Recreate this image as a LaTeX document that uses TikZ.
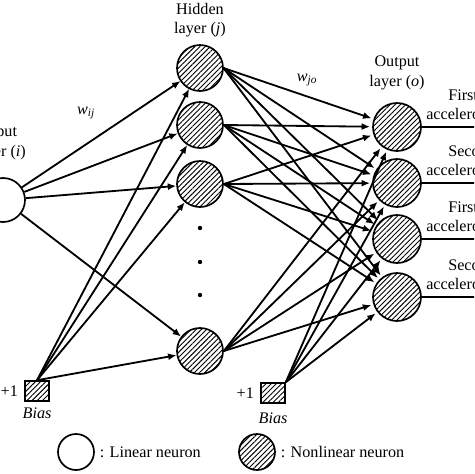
\documentclass[tikz,border=0pt]{standalone}
\usepackage{fontspec}
\setmainfont{Liberation Serif}
\usetikzlibrary{arrows.meta}
\usetikzlibrary{patterns.meta}

\begin{document}
\begin{tikzpicture}[x=0.25mm, y=-0.25mm, font=\fontsize{11.5}{14}\selectfont,
    lin/.style={circle, draw, line width=1.2pt, inner sep=0pt, minimum size=#1},
    lin/.default=11mm,
    nonlin/.style={circle, draw, line width=1.2pt, inner sep=0pt, minimum size=#1,
        pattern={Lines[angle=45, distance=2.6pt, line width=0.65pt]}},
    nonlin/.default=11.5mm,
    biasbox/.style={draw, line width=1.1pt, minimum width=6mm, minimum height=5mm, inner sep=0pt,
        pattern={Lines[angle=45, distance=2.6pt, line width=0.65pt]}},
    conn/.style={line width=1.3pt, -{Latex[length=6pt, width=5pt]}}]
    \useasboundingbox (0, 0) rectangle (474, 474);
    \clip (0, 0) rectangle (474, 474);
    % neurons
    \node[lin] (in) at (3, 200) {};
    \node[nonlin] (h1) at (200, 68) {};
    \node[nonlin] (h2) at (200, 125) {};
    \node[nonlin] (h3) at (200, 184) {};
    \node[nonlin] (h4) at (200, 351) {};
    \foreach \y in {228, 262, 295}
        \fill (200, \y) circle (2.2);
    \node[nonlin=12mm] (o1) at (397, 127) {};
    \node[nonlin=12mm] (o2) at (397, 183) {};
    \node[nonlin=12mm] (o3) at (397, 239) {};
    \node[nonlin=12mm] (o4) at (397, 297) {};
    % bias units
    \node[biasbox] (b1) at (37, 391) {};
    \node[left=1pt] (p1) at (b1.west) {+1};
    \node (bl1) at (37, 413) {\textit{Bias}};
    \node[biasbox] (b2) at (273, 393) {};
    \node[left=1pt] (p2) at (b2.west) {+1};
    \node (bl2) at (273, 418) {\textit{Bias}};
    % layer labels
    \node[align=center] (tin) at (0, 143) {Input\\layer (\textit{i})};
    \node[align=center] (thid) at (200, 20) {Hidden\\layer (\textit{j})};
    \node[align=center] (tout) at (397, 73) {Output\\layer (\textit{o})};
    \node (wij) at (86, 113) {\textit{w}\textsubscript{\textit{ij}}};
    \node (wjo) at (307, 80) {\textit{w}\textsubscript{\textit{jo}}};
    % connections
    \foreach \h in {1,...,4} {
        \draw[conn] (in) -- (h\h);
        \draw[conn] (b1.north) -- (h\h);
    }
    \foreach \h in {1,...,4}
        \foreach \o in {1,...,4}
            \draw[conn, shorten >=1.5pt] (h\h.east) -- (o\o);
    \foreach \o in {1,...,4}
        \draw[conn, shorten >=1.5pt] (b2.north east) -- (o\o);
    % outputs
    \foreach \o/\t in {1/First, 2/Second, 3/First, 4/Second} {
        \path (o\o) ++(90, 0) coordinate (e\o);
        \draw[line width=1.3pt] (o\o) -- (e\o);
        \path (o\o) ++(51, -27) node[anchor=base west, inner sep=0pt] (ta\o) {\t};
        \path (o\o) ++(29, -8) node[anchor=base west, inner sep=0pt] (tb\o) {accelerometer};
    }
    % legend
    \node[lin=9mm] (leg1) at (76, 452) {};
    \node[anchor=west] (legt1) at (leg1.east) {: Linear neuron};
    \node[nonlin=9mm] (leg2) at (257, 452) {};
    \node[anchor=west] (legt2) at (leg2.east) {: Nonlinear neuron};
\end{tikzpicture}
\end{document}
